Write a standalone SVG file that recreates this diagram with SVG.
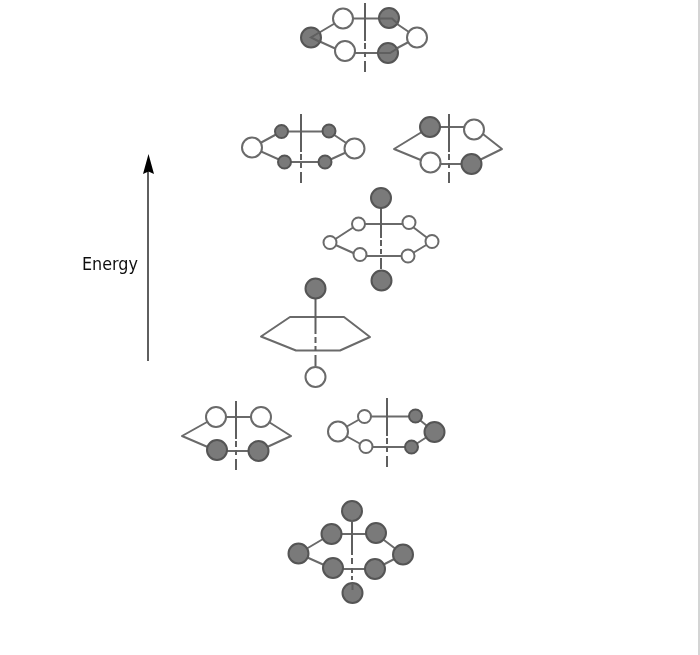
<svg xmlns="http://www.w3.org/2000/svg" width="700" height="655" viewBox="0 0 700 655">
<style>
.b{fill:none;stroke:#6a6a6a;stroke-width:2;stroke-linejoin:round}
.a{fill:none;stroke:#5e5e5e;stroke-width:2}
.d{fill:none;stroke:#5e5e5e;stroke-width:2;stroke-dasharray:6 3 5 4 11 99}
.w{fill:#fff;stroke:#6a6a6a;stroke-width:2}
.g{fill:#7a7a7a;stroke:#555;stroke-width:2}
text{font-family:"DejaVu Sans","Liberation Sans",sans-serif;font-size:18px;fill:#111}
</style>
<defs><filter id="soft" filterUnits="userSpaceOnUse" x="0" y="0" width="700" height="655"><feGaussianBlur stdDeviation="0.35"/></filter></defs>
<rect x="698" y="0" width="2" height="655" fill="#d4d4d4"/>
<g filter="url(#soft)">
<g id="connectors">
<path class="a" d="M148 361V160"/><path d="M148.500 154L154 174L148.500 171.500L143 174Z" fill="#000"/>
<path class="b" d="M311 37.500L343 18.500H389L417 37.500L388 53H345Z"/><path class="a" d="M365 3V41"/><path class="d" d="M365 43V73"/>
<path class="b" d="M252 147.500L281.500 131.500H329L354.500 148.500L325 162H284.500Z"/><path class="a" d="M301 114V152"/><path class="d" d="M301 154V185"/>
<path class="b" d="M394 149L430 127H474L502 149L471.500 164H430.500Z"/><path class="a" d="M449 114V152"/><path class="d" d="M449 154V185"/>
<path class="b" d="M330 242.500L358.500 224H409L432 241.500L408 256H360Z"/><path class="a" d="M381 198V238"/><path class="d" d="M381 240V271"/>
<path class="b" d="M261 336.500L290 317H344L370 337L340 350.500H296Z"/><path class="a" d="M315.500 288V334"/><path class="d" d="M315.500 337V368"/>
<path class="b" d="M182 436L216 417H261L291 436L258.500 451H217Z"/><path class="a" d="M236 401V439"/><path class="d" d="M236 441V472"/>
<path class="b" d="M338 431.500L364.500 416.500H415.500L434.500 432L411.500 447H366Z"/><path class="a" d="M387 398V436"/><path class="d" d="M387 438V469"/>
<path class="b" d="M298.500 553.500L331.500 534H376L403 554.500L375 569H333Z"/>
</g>
<g id="mo1"><circle class="w" cx="343" cy="18.500" r="10"/><circle class="g" cx="389" cy="18" r="10"/><circle class="g" cx="311" cy="37.500" r="10"/><circle class="w" cx="417" cy="37.500" r="10"/><circle class="w" cx="345" cy="51" r="10"/><circle class="g" cx="388" cy="53" r="10"/><path class="a" d="M320 32L311 37.500L320 42M379 18.500H392L398 24M378 53H390L398 48"/></g>
<g id="mo2"><circle class="w" cx="252" cy="147.500" r="10"/><circle class="g" cx="281.500" cy="131.500" r="6.500"/><circle class="g" cx="329" cy="131" r="6.500"/><circle class="w" cx="354.500" cy="148.500" r="10"/><circle class="g" cx="284.500" cy="162" r="6.500"/><circle class="g" cx="325" cy="162" r="6.500"/></g>
<g id="mo3"><circle class="g" cx="430" cy="127" r="10"/><circle class="w" cx="474" cy="129.500" r="10"/><circle class="w" cx="430.500" cy="162.500" r="10"/><circle class="g" cx="471.500" cy="164" r="10"/></g>
<g id="mo4"><circle class="g" cx="381" cy="198" r="10"/><circle class="w" cx="358.500" cy="224" r="6.500"/><circle class="w" cx="409" cy="222.500" r="6.500"/><circle class="w" cx="330" cy="242.500" r="6.500"/><circle class="w" cx="432" cy="241.500" r="6.500"/><circle class="w" cx="360" cy="254.500" r="6.500"/><circle class="w" cx="408" cy="256" r="6.500"/><circle class="g" cx="381.500" cy="280.500" r="10"/></g>
<g id="mo5"><circle class="g" cx="315.500" cy="288.500" r="10"/><circle class="w" cx="315.500" cy="377" r="10"/></g>
<g id="mo6"><circle class="w" cx="216" cy="417" r="10"/><circle class="w" cx="261" cy="417" r="10"/><circle class="g" cx="217" cy="450" r="10"/><circle class="g" cx="258.500" cy="451" r="10"/></g>
<g id="mo7"><circle class="w" cx="338" cy="431.500" r="10"/><circle class="w" cx="364.500" cy="416.500" r="6.500"/><circle class="g" cx="415.500" cy="416" r="6.500"/><circle class="g" cx="434.500" cy="432" r="10"/><circle class="w" cx="366" cy="446.500" r="6.500"/><circle class="g" cx="411.500" cy="447" r="6.500"/></g>
<g id="mo8"><circle class="g" cx="352" cy="511" r="10"/><circle class="g" cx="331.500" cy="534" r="10"/><circle class="g" cx="376" cy="533" r="10"/><circle class="g" cx="298.500" cy="553.500" r="10"/><circle class="g" cx="403" cy="554.500" r="10"/><circle class="g" cx="333" cy="568" r="10"/><circle class="g" cx="375" cy="569" r="10"/><circle class="g" cx="352.500" cy="593" r="10"/><path class="a" d="M352 520V555M352.500 583V590"/><path class="a" d="M352 558V564M352 568V573M352 576V580"/></g>
<text id="energy" x="82" y="270" textLength="56" lengthAdjust="spacingAndGlyphs">Energy</text>
</g>
</svg>
